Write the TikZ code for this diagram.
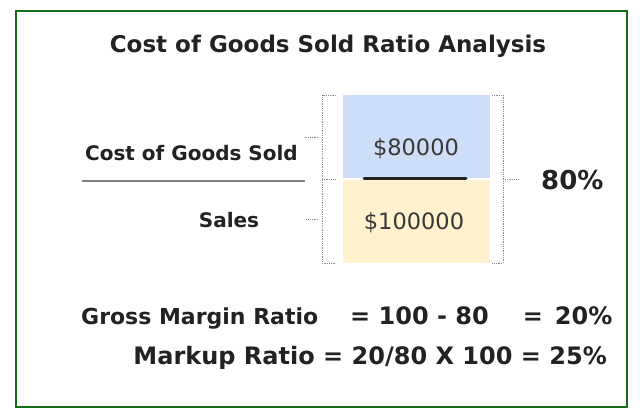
\documentclass[tikz,border=0pt]{standalone}
\usepackage{fontspec}
\setmainfont{DejaVu Sans}
\usetikzlibrary{positioning}
\definecolor{framegreen}{RGB}{22,110,22}
\definecolor{cogsblue}{RGB}{207,222,248}
\definecolor{salesyellow}{RGB}{255,242,204}
\definecolor{inkdark}{RGB}{34,34,34}
\newcommand{\bigfig}{\fontsize{24}{28}\selectfont}
\tikzset{heading/.style = {font=\bfseries\fontsize{23}{27}\selectfont, text=inkdark, inner sep=0, anchor=base}}
\tikzset{lbl/.style = {font=\bfseries\fontsize{20}{24}\selectfont, text=inkdark, inner sep=0, anchor=base}}
\tikzset{val/.style = {font=\fontsize{22.5}{26}\selectfont, text=black!78, inner sep=0, anchor=base}}
\tikzset{formula/.style = {font=\bfseries\fontsize{22}{26}\selectfont, text=inkdark, inner sep=0, anchor=base}}
\tikzset{tick/.style = {densely dotted, black!45, line width=0.8}}

\begin{document}
\begin{tikzpicture}[x=1pt, y=-1pt]
        \useasboundingbox (0,0) rectangle (640,416);
        \draw [framegreen, line width=1.3] (16,11) rectangle (627,407);
        \node [heading] (title) at (328,52) {Cost of Goods Sold Ratio Analysis};
        % the two bars
        \fill [cogsblue] (343,95) rectangle (490,178);
        \fill [salesyellow] (343,180) rectangle (490,263);
        \node [val] (cost) at (416,155) {\$80000};
        \node [val] (sales val) at (414,229) {\$100000};
        \draw [inkdark, line width=3, line cap=round] (364,178.5) -- (466,178.5);
        % labels on the left
        \node [lbl, anchor=base east] (cogs) at (298,160) {Cost of Goods Sold};
        \node [lbl] (sales) at (229,227) {Sales};
        \draw [black!50, line width=1.4] (82,181) -- (305,181);
        % dotted brackets
        \draw [tick] (336,95) -| (322,263) -- (336,263);
        \draw [tick] (322,179) -- (336,179);
        \draw [tick] (492,95) -| (503,263) -- (492,263);
        \coordinate (cogs tick) at (318,137);
        \coordinate (sales tick) at (318,219);
        \coordinate (pct tick) at (505,179);
        \draw [tick] (cogs tick) -- ++(-13,0);
        \draw [tick] (sales tick) -- ++(-12,0);
        \draw [tick] (pct tick) -- ++(14,0);
        \node [formula, font=\bfseries\fontsize{26}{30}\selectfont, anchor=base west] (pct) at (541,189) {80\%};
        % ratios below
        \node [formula, anchor=base west] (gross) at (81,324) {Gross Margin Ratio\hspace{32pt}{\bigfig= 100 - 80\hspace{34pt}=\hspace{12pt}20\%}};
        \node [formula, font=\bfseries\bigfig, anchor=base east] (markup) at (607,364) {Markup Ratio = 20/80 X 100 = 25\%};
    \end{tikzpicture}
\end{document}
